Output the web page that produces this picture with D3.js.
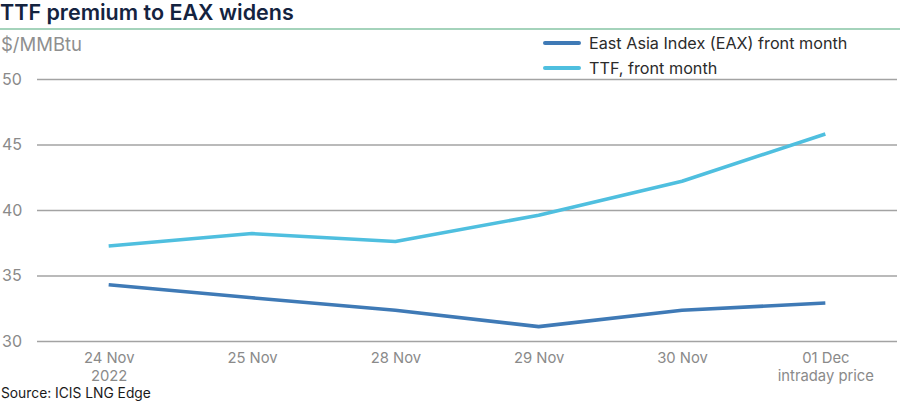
<!DOCTYPE html>
<html>
<head>
<meta charset="utf-8">
<script src="https://cdn.jsdelivr.net/npm/d3@7"></script>
<style>
  body { margin: 0; background: #fff; }
  svg { display: block; font-family: Inter, "Open Sans", sans-serif; }
</style>
</head>
<body>
<div id="chart"></div>
<script>
// categories (two-line labels)
const categories = ["24 Nov", "25 Nov", "28 Nov", "29 Nov", "30 Nov", "01 Dec"];
const categorySubLabels = ["2022", "", "", "", "", "intraday price"];
// series values, $/MMBtu
const eaxValues = [34.3, 33.3, 32.35, 31.1, 32.35, 32.9];
const ttfValues = [37.25, 38.2, 37.6, 39.6, 42.2, 45.8];
const yTicks = [30, 35, 40, 45, 50];

const series = [
  { key: "eax", label: "East Asia Index (EAX) front month", values: eaxValues, color: "#3f7ab6" },
  { key: "ttf", label: "TTF, front month", values: ttfValues, color: "#4fbfdf" },
];

const totalWidth = 900, totalHeight = 402;
const plotLeft = 37, plotRight = 897, plotTop = 79, plotBottom = 341;
const font = "Inter, 'Open Sans', sans-serif";

const svg = d3.select("#chart").append("svg")
  .attr("width", totalWidth)
  .attr("height", totalHeight);

const x = d3.scalePoint()
  .domain(categories)
  .range([plotLeft, plotRight])
  .padding(0.5);

const y = d3.scaleLinear()
  .domain([30, 50])
  .range([plotBottom, plotTop]);

// title + rule
svg.append("text")
  .attr("x", 0)
  .attr("y", 20)
  .style("font-size", "21.5px")
  .style("font-weight", 600)
  .style("fill", "#14233f")
  .text("TTF premium to EAX widens");

svg.append("line")
  .attr("x1", 0).attr("x2", totalWidth)
  .attr("y1", 29).attr("y2", 29)
  .style("stroke", "#86c5a5")
  .style("stroke-width", 1.5);

// unit label
svg.append("text")
  .attr("x", 1)
  .attr("y", 51)
  .style("font-size", "18.5px")
  .style("fill", "#8f8f8f")
  .text("$/MMBtu");

// y gridlines + labels
const yAxis = d3.axisLeft(y)
  .tickValues(yTicks)
  .tickSize(-(plotRight - plotLeft));

const yG = svg.append("g")
  .attr("transform", `translate(${plotLeft},0)`)
  .call(yAxis);
yG.select(".domain").remove();
yG.selectAll(".tick line").style("stroke", "#a3a3a3").style("stroke-width", 1.3);
yG.selectAll(".tick text")
  .attr("x", -35)
  .style("text-anchor", "start")
  .style("font-size", "16px")
  .style("font-family", font)
  .style("fill", "#8a8a8a");

// x axis labels
const xAxis = d3.axisBottom(x).tickSize(0).tickPadding(0);
const xG = svg.append("g")
  .attr("transform", `translate(0,${plotBottom})`)
  .call(xAxis);
xG.select(".domain").remove();
xG.selectAll(".tick text").remove();
xG.selectAll(".tick").each(function (d, i) {
  const tick = d3.select(this);
  tick.append("text")
    .attr("y", 21.5)
    .style("text-anchor", "middle")
    .style("font-size", "14.8px")
    .style("font-family", font)
    .style("fill", "#8a8a8a")
    .text(d);
  if (categorySubLabels[i]) {
    tick.append("text")
      .attr("y", 39.5)
      .style("text-anchor", "middle")
      .style("font-size", "14.8px")
      .style("font-family", font)
      .style("fill", "#8a8a8a")
      .text(categorySubLabels[i]);
  }
});

// lines
const line = d3.line()
  .x((d, i) => x(categories[i]))
  .y((d) => y(d));

svg.append("g")
  .selectAll("path")
  .data(series)
  .join("path")
  .attr("d", (d) => line(d.values))
  .style("fill", "none")
  .style("stroke", (d) => d.color)
  .style("stroke-width", 3.6)
  .style("stroke-linejoin", "round");

// legend
const legend = svg.append("g")
  .selectAll("g")
  .data(series)
  .join("g")
  .attr("transform", (d, i) => `translate(545,${43 + i * 25})`);

legend.append("line")
  .attr("x1", 0).attr("x2", 34)
  .style("stroke", (d) => d.color)
  .style("stroke-width", 4)
  .style("stroke-linecap", "round");

legend.append("text")
  .attr("x", 44)
  .attr("dy", "0.35em")
  .style("font-size", "16.2px")
  .style("fill", "#2b2b2b")
  .text((d) => d.label);

// source
svg.append("text")
  .attr("x", 1)
  .attr("y", 398)
  .style("font-size", "13.8px")
  .style("fill", "#1a1a1a")
  .text("Source: ICIS LNG Edge");
</script>
</body>
</html>
